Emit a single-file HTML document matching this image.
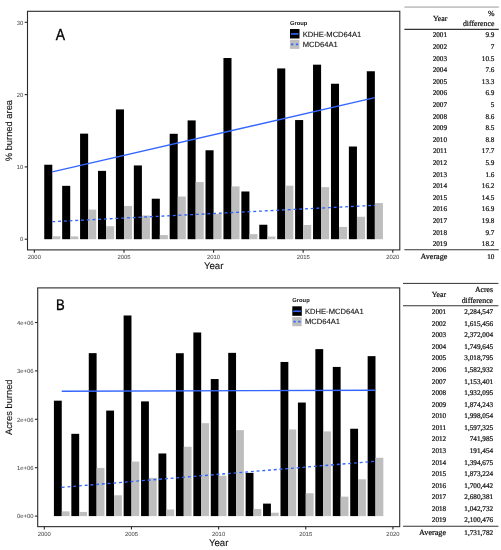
<!DOCTYPE html>
<html lang="en">
<head>
<meta charset="utf-8">
<title>Burned area comparison</title>
<style>
html,body{margin:0;padding:0;background:#fff;}
body{width:501px;height:550px;overflow:hidden;}
svg{display:block;}
</style>
</head>
<body>
<svg width="501" height="550" viewBox="0 0 501 550" text-rendering="geometricPrecision">
<rect x="0" y="0" width="501" height="550" fill="#fff"/>
<g>
<rect x="44.24" y="164.73" width="8.06" height="74.47" fill="#000"/>
<rect x="52.3" y="236.31" width="8.06" height="2.89" fill="#bebebe"/>
<rect x="62.16" y="185.84" width="8.06" height="53.36" fill="#000"/>
<rect x="70.22" y="236.45" width="8.06" height="2.75" fill="#bebebe"/>
<rect x="80.08" y="133.64" width="8.06" height="105.56" fill="#000"/>
<rect x="88.14" y="209.56" width="8.06" height="29.64" fill="#bebebe"/>
<rect x="98" y="170.88" width="8.06" height="68.32" fill="#000"/>
<rect x="106.06" y="226.19" width="8.06" height="13.01" fill="#bebebe"/>
<rect x="115.92" y="109.42" width="8.06" height="129.78" fill="#000"/>
<rect x="123.98" y="205.94" width="8.06" height="33.26" fill="#bebebe"/>
<rect x="133.84" y="165.45" width="8.06" height="73.75" fill="#000"/>
<rect x="141.9" y="215.49" width="8.06" height="23.71" fill="#bebebe"/>
<rect x="151.76" y="198.71" width="8.06" height="40.49" fill="#000"/>
<rect x="159.82" y="235.08" width="8.06" height="4.12" fill="#bebebe"/>
<rect x="169.68" y="133.79" width="8.06" height="105.41" fill="#000"/>
<rect x="177.74" y="196.54" width="8.06" height="42.66" fill="#bebebe"/>
<rect x="187.6" y="120.41" width="8.06" height="118.79" fill="#000"/>
<rect x="195.66" y="182.08" width="8.06" height="57.12" fill="#bebebe"/>
<rect x="205.52" y="150.27" width="8.06" height="88.93" fill="#000"/>
<rect x="213.58" y="213.89" width="8.06" height="25.3" fill="#bebebe"/>
<rect x="223.44" y="58.02" width="8.06" height="181.18" fill="#000"/>
<rect x="231.5" y="186.42" width="8.06" height="52.78" fill="#bebebe"/>
<rect x="241.36" y="191.48" width="8.06" height="47.72" fill="#000"/>
<rect x="249.42" y="234.14" width="8.06" height="5.06" fill="#bebebe"/>
<rect x="259.28" y="224.74" width="8.06" height="14.46" fill="#000"/>
<rect x="267.34" y="236.52" width="8.06" height="2.68" fill="#bebebe"/>
<rect x="277.2" y="68.43" width="8.06" height="170.77" fill="#000"/>
<rect x="285.26" y="185.7" width="8.06" height="53.5" fill="#bebebe"/>
<rect x="295.12" y="120.05" width="8.06" height="119.15" fill="#000"/>
<rect x="303.18" y="224.96" width="8.06" height="14.24" fill="#bebebe"/>
<rect x="313.04" y="64.67" width="8.06" height="174.53" fill="#000"/>
<rect x="321.1" y="187.14" width="8.06" height="52.06" fill="#bebebe"/>
<rect x="330.96" y="83.75" width="8.06" height="155.45" fill="#000"/>
<rect x="339.02" y="226.91" width="8.06" height="12.29" fill="#bebebe"/>
<rect x="348.88" y="146.51" width="8.06" height="92.69" fill="#000"/>
<rect x="356.94" y="216.79" width="8.06" height="22.41" fill="#bebebe"/>
<rect x="366.8" y="71.25" width="8.06" height="167.95" fill="#000"/>
<rect x="374.86" y="203.05" width="8.06" height="36.15" fill="#bebebe"/>
</g>
<line x1="52.3" y1="171.9" x2="374.9" y2="97.6" stroke="#3366ff" stroke-width="1.35"/>
<line x1="52.3" y1="221.7" x2="375.2" y2="205.3" stroke="#3366ff" stroke-width="1.35" stroke-dasharray="2.9 2.85"/>
<rect x="27.5" y="11.3" width="372.3" height="238.6" fill="none" stroke="#2a2a2a" stroke-width="1.1"/>
<line x1="24.7" y1="239.2" x2="27.5" y2="239.2" stroke="#2a2a2a" stroke-width="1.1"/>
<text x="23.3" y="241.4" text-anchor="end" font-family='"Liberation Sans", Arial, Helvetica, sans-serif' font-size="5.9" fill="#4d4d4d" stroke="#4d4d4d" stroke-width="0.05">0</text>
<line x1="24.7" y1="166.9" x2="27.5" y2="166.9" stroke="#2a2a2a" stroke-width="1.1"/>
<text x="23.3" y="169.1" text-anchor="end" font-family='"Liberation Sans", Arial, Helvetica, sans-serif' font-size="5.9" fill="#4d4d4d" stroke="#4d4d4d" stroke-width="0.05">10</text>
<line x1="24.7" y1="94.6" x2="27.5" y2="94.6" stroke="#2a2a2a" stroke-width="1.1"/>
<text x="23.3" y="96.8" text-anchor="end" font-family='"Liberation Sans", Arial, Helvetica, sans-serif' font-size="5.9" fill="#4d4d4d" stroke="#4d4d4d" stroke-width="0.05">20</text>
<line x1="24.7" y1="22.3" x2="27.5" y2="22.3" stroke="#2a2a2a" stroke-width="1.1"/>
<text x="23.3" y="24.5" text-anchor="end" font-family='"Liberation Sans", Arial, Helvetica, sans-serif' font-size="5.9" fill="#4d4d4d" stroke="#4d4d4d" stroke-width="0.05">30</text>
<line x1="34.38" y1="249.9" x2="34.38" y2="252.7" stroke="#2a2a2a" stroke-width="1.1"/>
<text x="34.38" y="259.4" text-anchor="middle" font-family='"Liberation Sans", Arial, Helvetica, sans-serif' font-size="5.9" fill="#4d4d4d" stroke="#4d4d4d" stroke-width="0.05">2000</text>
<line x1="123.98" y1="249.9" x2="123.98" y2="252.7" stroke="#2a2a2a" stroke-width="1.1"/>
<text x="123.98" y="259.4" text-anchor="middle" font-family='"Liberation Sans", Arial, Helvetica, sans-serif' font-size="5.9" fill="#4d4d4d" stroke="#4d4d4d" stroke-width="0.05">2005</text>
<line x1="213.58" y1="249.9" x2="213.58" y2="252.7" stroke="#2a2a2a" stroke-width="1.1"/>
<text x="213.58" y="259.4" text-anchor="middle" font-family='"Liberation Sans", Arial, Helvetica, sans-serif' font-size="5.9" fill="#4d4d4d" stroke="#4d4d4d" stroke-width="0.05">2010</text>
<line x1="303.18" y1="249.9" x2="303.18" y2="252.7" stroke="#2a2a2a" stroke-width="1.1"/>
<text x="303.18" y="259.4" text-anchor="middle" font-family='"Liberation Sans", Arial, Helvetica, sans-serif' font-size="5.9" fill="#4d4d4d" stroke="#4d4d4d" stroke-width="0.05">2015</text>
<line x1="392.78" y1="249.9" x2="392.78" y2="252.7" stroke="#2a2a2a" stroke-width="1.1"/>
<text x="392.78" y="259.4" text-anchor="middle" font-family='"Liberation Sans", Arial, Helvetica, sans-serif' font-size="5.9" fill="#4d4d4d" stroke="#4d4d4d" stroke-width="0.05">2020</text>
<text x="213.65" y="269" text-anchor="middle" font-family='"Liberation Sans", Arial, Helvetica, sans-serif' font-size="9.6" fill="#111" stroke="#111" stroke-width="0.1">Year</text>
<text transform="translate(12.2 130.6) rotate(-90)" text-anchor="middle" font-family='"Liberation Sans", Arial, Helvetica, sans-serif' font-size="9.35" fill="#111" stroke="#111" stroke-width="0.1">% burned area</text>
<text transform="translate(55.8 40) scale(0.87 1)" font-family='"Liberation Sans", Arial, Helvetica, sans-serif' font-size="16" fill="#000" stroke="#000" stroke-width="0.35">A</text>
<text x="290" y="25.1" font-family='"Liberation Sans", Arial, Helvetica, sans-serif' font-size="5.8" font-weight="bold" fill="#111">Group</text>
<rect x="290" y="29" width="9.5" height="9.5" fill="#000"/>
<line x1="290.9" y1="33.95" x2="298.5" y2="33.95" stroke="#3366ff" stroke-width="1.6"/>
<rect x="290" y="39.8" width="9.4" height="9.1" fill="#bebebe"/>
<line x1="291.1" y1="44.35" x2="298.5" y2="44.35" stroke="#3366ff" stroke-width="1.6" stroke-dasharray="2.3 2.5"/>
<text x="302.7" y="36.6" font-family='"Liberation Sans", Arial, Helvetica, sans-serif' font-size="7.6" fill="#111" stroke="#111" stroke-width="0.12">KDHE-MCD64A1</text>
<text x="302.7" y="47" font-family='"Liberation Sans", Arial, Helvetica, sans-serif' font-size="7.6" fill="#111" stroke="#111" stroke-width="0.12">MCD64A1</text>
<g>
<rect x="53.91" y="400.67" width="7.84" height="115.43" fill="#000"/>
<rect x="61.75" y="511.36" width="7.84" height="4.74" fill="#bebebe"/>
<rect x="71.34" y="433.82" width="7.84" height="82.28" fill="#000"/>
<rect x="79.18" y="511.94" width="7.84" height="4.16" fill="#bebebe"/>
<rect x="88.77" y="353.14" width="7.84" height="162.96" fill="#000"/>
<rect x="96.61" y="467.94" width="7.84" height="48.16" fill="#bebebe"/>
<rect x="106.2" y="410.59" width="7.84" height="105.51" fill="#000"/>
<rect x="114.04" y="495.29" width="7.84" height="20.81" fill="#bebebe"/>
<rect x="123.63" y="315.48" width="7.84" height="200.62" fill="#000"/>
<rect x="131.47" y="461.6" width="7.84" height="54.5" fill="#bebebe"/>
<rect x="141.06" y="401.39" width="7.84" height="114.71" fill="#000"/>
<rect x="148.9" y="477.86" width="7.84" height="38.24" fill="#bebebe"/>
<rect x="158.49" y="453.47" width="7.84" height="62.63" fill="#000"/>
<rect x="166.33" y="509.47" width="7.84" height="6.63" fill="#bebebe"/>
<rect x="175.92" y="353.23" width="7.84" height="162.87" fill="#000"/>
<rect x="183.76" y="446.74" width="7.84" height="69.36" fill="#bebebe"/>
<rect x="193.35" y="332.47" width="7.84" height="183.63" fill="#000"/>
<rect x="201.19" y="423.17" width="7.84" height="92.93" fill="#bebebe"/>
<rect x="210.78" y="379.03" width="7.84" height="137.07" fill="#000"/>
<rect x="218.62" y="475.73" width="7.84" height="40.37" fill="#bebebe"/>
<rect x="228.21" y="352.85" width="7.84" height="163.25" fill="#000"/>
<rect x="236.05" y="430.14" width="7.84" height="85.96" fill="#bebebe"/>
<rect x="245.64" y="472.88" width="7.84" height="43.22" fill="#000"/>
<rect x="253.48" y="508.99" width="7.84" height="7.11" fill="#bebebe"/>
<rect x="263.07" y="503.61" width="7.84" height="12.49" fill="#000"/>
<rect x="270.91" y="512.71" width="7.84" height="3.39" fill="#bebebe"/>
<rect x="280.5" y="361.95" width="7.84" height="154.15" fill="#000"/>
<rect x="288.34" y="429.46" width="7.84" height="86.64" fill="#bebebe"/>
<rect x="297.93" y="402.55" width="7.84" height="113.55" fill="#000"/>
<rect x="305.77" y="493.26" width="7.84" height="22.84" fill="#bebebe"/>
<rect x="315.36" y="349.12" width="7.84" height="166.98" fill="#000"/>
<rect x="323.2" y="431.4" width="7.84" height="84.7" fill="#bebebe"/>
<rect x="332.79" y="366.93" width="7.84" height="149.17" fill="#000"/>
<rect x="340.63" y="496.64" width="7.84" height="19.46" fill="#bebebe"/>
<rect x="350.22" y="428.74" width="7.84" height="87.36" fill="#000"/>
<rect x="358.06" y="479.27" width="7.84" height="36.83" fill="#bebebe"/>
<rect x="367.65" y="356.14" width="7.84" height="159.96" fill="#000"/>
<rect x="375.49" y="457.78" width="7.84" height="58.32" fill="#bebebe"/>
</g>
<line x1="61.75" y1="391.2" x2="375.2" y2="390.2" stroke="#3366ff" stroke-width="1.35"/>
<line x1="61.75" y1="487.35" x2="375.5" y2="461.3" stroke="#3366ff" stroke-width="1.35" stroke-dasharray="2.9 2.85"/>
<rect x="37.7" y="287.9" width="362" height="238.75" fill="none" stroke="#2a2a2a" stroke-width="1.1"/>
<line x1="34.9" y1="516.1" x2="37.7" y2="516.1" stroke="#2a2a2a" stroke-width="1.1"/>
<text x="33.5" y="518.3" text-anchor="end" font-family='"Liberation Sans", Arial, Helvetica, sans-serif' font-size="5.9" fill="#4d4d4d" stroke="#4d4d4d" stroke-width="0.05">0e+00</text>
<line x1="34.9" y1="467.7" x2="37.7" y2="467.7" stroke="#2a2a2a" stroke-width="1.1"/>
<text x="33.5" y="469.9" text-anchor="end" font-family='"Liberation Sans", Arial, Helvetica, sans-serif' font-size="5.9" fill="#4d4d4d" stroke="#4d4d4d" stroke-width="0.05">1e+06</text>
<line x1="34.9" y1="419.3" x2="37.7" y2="419.3" stroke="#2a2a2a" stroke-width="1.1"/>
<text x="33.5" y="421.5" text-anchor="end" font-family='"Liberation Sans", Arial, Helvetica, sans-serif' font-size="5.9" fill="#4d4d4d" stroke="#4d4d4d" stroke-width="0.05">2e+06</text>
<line x1="34.9" y1="370.9" x2="37.7" y2="370.9" stroke="#2a2a2a" stroke-width="1.1"/>
<text x="33.5" y="373.1" text-anchor="end" font-family='"Liberation Sans", Arial, Helvetica, sans-serif' font-size="5.9" fill="#4d4d4d" stroke="#4d4d4d" stroke-width="0.05">3e+06</text>
<line x1="34.9" y1="322.5" x2="37.7" y2="322.5" stroke="#2a2a2a" stroke-width="1.1"/>
<text x="33.5" y="324.7" text-anchor="end" font-family='"Liberation Sans", Arial, Helvetica, sans-serif' font-size="5.9" fill="#4d4d4d" stroke="#4d4d4d" stroke-width="0.05">4e+06</text>
<line x1="44.32" y1="526.65" x2="44.32" y2="529.45" stroke="#2a2a2a" stroke-width="1.1"/>
<text x="44.32" y="536.3" text-anchor="middle" font-family='"Liberation Sans", Arial, Helvetica, sans-serif' font-size="5.9" fill="#4d4d4d" stroke="#4d4d4d" stroke-width="0.05">2000</text>
<line x1="131.47" y1="526.65" x2="131.47" y2="529.45" stroke="#2a2a2a" stroke-width="1.1"/>
<text x="131.47" y="536.3" text-anchor="middle" font-family='"Liberation Sans", Arial, Helvetica, sans-serif' font-size="5.9" fill="#4d4d4d" stroke="#4d4d4d" stroke-width="0.05">2005</text>
<line x1="218.62" y1="526.65" x2="218.62" y2="529.45" stroke="#2a2a2a" stroke-width="1.1"/>
<text x="218.62" y="536.3" text-anchor="middle" font-family='"Liberation Sans", Arial, Helvetica, sans-serif' font-size="5.9" fill="#4d4d4d" stroke="#4d4d4d" stroke-width="0.05">2010</text>
<line x1="305.77" y1="526.65" x2="305.77" y2="529.45" stroke="#2a2a2a" stroke-width="1.1"/>
<text x="305.77" y="536.3" text-anchor="middle" font-family='"Liberation Sans", Arial, Helvetica, sans-serif' font-size="5.9" fill="#4d4d4d" stroke="#4d4d4d" stroke-width="0.05">2015</text>
<line x1="392.92" y1="526.65" x2="392.92" y2="529.45" stroke="#2a2a2a" stroke-width="1.1"/>
<text x="392.92" y="536.3" text-anchor="middle" font-family='"Liberation Sans", Arial, Helvetica, sans-serif' font-size="5.9" fill="#4d4d4d" stroke="#4d4d4d" stroke-width="0.05">2020</text>
<text x="218.7" y="545.5" text-anchor="middle" font-family='"Liberation Sans", Arial, Helvetica, sans-serif' font-size="9.6" fill="#111" stroke="#111" stroke-width="0.1">Year</text>
<text transform="translate(12.3 407.27) rotate(-90)" text-anchor="middle" font-family='"Liberation Sans", Arial, Helvetica, sans-serif' font-size="9.35" fill="#111" stroke="#111" stroke-width="0.1">Acres burned</text>
<text transform="translate(55.9 310) scale(0.85 1)" font-family='"Liberation Sans", Arial, Helvetica, sans-serif' font-size="15.4" fill="#000" stroke="#000" stroke-width="0.35">B</text>
<text x="292.3" y="302.4" font-family='"Liberation Sans", Arial, Helvetica, sans-serif' font-size="5.8" font-weight="bold" fill="#111">Group</text>
<rect x="292.3" y="306.3" width="9.5" height="9.5" fill="#000"/>
<line x1="293.2" y1="311.25" x2="300.8" y2="311.25" stroke="#3366ff" stroke-width="1.6"/>
<rect x="292.3" y="317.1" width="9.4" height="9.1" fill="#bebebe"/>
<line x1="293.4" y1="321.65" x2="300.8" y2="321.65" stroke="#3366ff" stroke-width="1.6" stroke-dasharray="2.3 2.5"/>
<text x="305" y="313.9" font-family='"Liberation Sans", Arial, Helvetica, sans-serif' font-size="7.6" fill="#111" stroke="#111" stroke-width="0.12">KDHE-MCD64A1</text>
<text x="305" y="324.3" font-family='"Liberation Sans", Arial, Helvetica, sans-serif' font-size="7.6" fill="#111" stroke="#111" stroke-width="0.12">MCD64A1</text>
<line x1="404.4" y1="7.05" x2="498.8" y2="7.05" stroke="#999" stroke-width="1"/>
<line x1="404.4" y1="29.4" x2="498.8" y2="29.4" stroke="#333" stroke-width="1.1"/>
<line x1="404.4" y1="249.8" x2="498.8" y2="249.8" stroke="#333" stroke-width="1.1"/>
<text x="447.4" y="21" text-anchor="end" font-family='"Liberation Serif", "Times New Roman", serif' font-size="7.8" fill="#111" stroke="#111" stroke-width="0.22">Year</text>
<text x="494.4" y="15.6" text-anchor="end" font-family='"Liberation Serif", "Times New Roman", serif' font-size="7.8" fill="#111" stroke="#111" stroke-width="0.22">%</text>
<text x="494.4" y="25.6" text-anchor="end" font-family='"Liberation Serif", "Times New Roman", serif' font-size="7.8" fill="#111" stroke="#111" stroke-width="0.22">difference</text>
<text x="447" y="37.4" text-anchor="end" font-family='"Liberation Serif", "Times New Roman", serif' font-size="7.2" fill="#111" stroke="#111" stroke-width="0.22">2001</text>
<text x="494.4" y="37.4" text-anchor="end" font-family='"Liberation Serif", "Times New Roman", serif' font-size="7.2" fill="#111" stroke="#111" stroke-width="0.22">9.9</text>
<text x="447" y="49" text-anchor="end" font-family='"Liberation Serif", "Times New Roman", serif' font-size="7.2" fill="#111" stroke="#111" stroke-width="0.22">2002</text>
<text x="494.4" y="49" text-anchor="end" font-family='"Liberation Serif", "Times New Roman", serif' font-size="7.2" fill="#111" stroke="#111" stroke-width="0.22">7</text>
<text x="447" y="60.6" text-anchor="end" font-family='"Liberation Serif", "Times New Roman", serif' font-size="7.2" fill="#111" stroke="#111" stroke-width="0.22">2003</text>
<text x="494.4" y="60.6" text-anchor="end" font-family='"Liberation Serif", "Times New Roman", serif' font-size="7.2" fill="#111" stroke="#111" stroke-width="0.22">10.5</text>
<text x="447" y="72.2" text-anchor="end" font-family='"Liberation Serif", "Times New Roman", serif' font-size="7.2" fill="#111" stroke="#111" stroke-width="0.22">2004</text>
<text x="494.4" y="72.2" text-anchor="end" font-family='"Liberation Serif", "Times New Roman", serif' font-size="7.2" fill="#111" stroke="#111" stroke-width="0.22">7.6</text>
<text x="447" y="83.8" text-anchor="end" font-family='"Liberation Serif", "Times New Roman", serif' font-size="7.2" fill="#111" stroke="#111" stroke-width="0.22">2005</text>
<text x="494.4" y="83.8" text-anchor="end" font-family='"Liberation Serif", "Times New Roman", serif' font-size="7.2" fill="#111" stroke="#111" stroke-width="0.22">13.3</text>
<text x="447" y="95.4" text-anchor="end" font-family='"Liberation Serif", "Times New Roman", serif' font-size="7.2" fill="#111" stroke="#111" stroke-width="0.22">2006</text>
<text x="494.4" y="95.4" text-anchor="end" font-family='"Liberation Serif", "Times New Roman", serif' font-size="7.2" fill="#111" stroke="#111" stroke-width="0.22">6.9</text>
<text x="447" y="107" text-anchor="end" font-family='"Liberation Serif", "Times New Roman", serif' font-size="7.2" fill="#111" stroke="#111" stroke-width="0.22">2007</text>
<text x="494.4" y="107" text-anchor="end" font-family='"Liberation Serif", "Times New Roman", serif' font-size="7.2" fill="#111" stroke="#111" stroke-width="0.22">5</text>
<text x="447" y="118.6" text-anchor="end" font-family='"Liberation Serif", "Times New Roman", serif' font-size="7.2" fill="#111" stroke="#111" stroke-width="0.22">2008</text>
<text x="494.4" y="118.6" text-anchor="end" font-family='"Liberation Serif", "Times New Roman", serif' font-size="7.2" fill="#111" stroke="#111" stroke-width="0.22">8.6</text>
<text x="447" y="130.2" text-anchor="end" font-family='"Liberation Serif", "Times New Roman", serif' font-size="7.2" fill="#111" stroke="#111" stroke-width="0.22">2009</text>
<text x="494.4" y="130.2" text-anchor="end" font-family='"Liberation Serif", "Times New Roman", serif' font-size="7.2" fill="#111" stroke="#111" stroke-width="0.22">8.5</text>
<text x="447" y="141.8" text-anchor="end" font-family='"Liberation Serif", "Times New Roman", serif' font-size="7.2" fill="#111" stroke="#111" stroke-width="0.22">2010</text>
<text x="494.4" y="141.8" text-anchor="end" font-family='"Liberation Serif", "Times New Roman", serif' font-size="7.2" fill="#111" stroke="#111" stroke-width="0.22">8.8</text>
<text x="447" y="153.4" text-anchor="end" font-family='"Liberation Serif", "Times New Roman", serif' font-size="7.2" fill="#111" stroke="#111" stroke-width="0.22">2011</text>
<text x="494.4" y="153.4" text-anchor="end" font-family='"Liberation Serif", "Times New Roman", serif' font-size="7.2" fill="#111" stroke="#111" stroke-width="0.22">17.7</text>
<text x="447" y="165" text-anchor="end" font-family='"Liberation Serif", "Times New Roman", serif' font-size="7.2" fill="#111" stroke="#111" stroke-width="0.22">2012</text>
<text x="494.4" y="165" text-anchor="end" font-family='"Liberation Serif", "Times New Roman", serif' font-size="7.2" fill="#111" stroke="#111" stroke-width="0.22">5.9</text>
<text x="447" y="176.6" text-anchor="end" font-family='"Liberation Serif", "Times New Roman", serif' font-size="7.2" fill="#111" stroke="#111" stroke-width="0.22">2013</text>
<text x="494.4" y="176.6" text-anchor="end" font-family='"Liberation Serif", "Times New Roman", serif' font-size="7.2" fill="#111" stroke="#111" stroke-width="0.22">1.6</text>
<text x="447" y="188.2" text-anchor="end" font-family='"Liberation Serif", "Times New Roman", serif' font-size="7.2" fill="#111" stroke="#111" stroke-width="0.22">2014</text>
<text x="494.4" y="188.2" text-anchor="end" font-family='"Liberation Serif", "Times New Roman", serif' font-size="7.2" fill="#111" stroke="#111" stroke-width="0.22">16.2</text>
<text x="447" y="199.8" text-anchor="end" font-family='"Liberation Serif", "Times New Roman", serif' font-size="7.2" fill="#111" stroke="#111" stroke-width="0.22">2015</text>
<text x="494.4" y="199.8" text-anchor="end" font-family='"Liberation Serif", "Times New Roman", serif' font-size="7.2" fill="#111" stroke="#111" stroke-width="0.22">14.5</text>
<text x="447" y="211.4" text-anchor="end" font-family='"Liberation Serif", "Times New Roman", serif' font-size="7.2" fill="#111" stroke="#111" stroke-width="0.22">2016</text>
<text x="494.4" y="211.4" text-anchor="end" font-family='"Liberation Serif", "Times New Roman", serif' font-size="7.2" fill="#111" stroke="#111" stroke-width="0.22">16.9</text>
<text x="447" y="223" text-anchor="end" font-family='"Liberation Serif", "Times New Roman", serif' font-size="7.2" fill="#111" stroke="#111" stroke-width="0.22">2017</text>
<text x="494.4" y="223" text-anchor="end" font-family='"Liberation Serif", "Times New Roman", serif' font-size="7.2" fill="#111" stroke="#111" stroke-width="0.22">19.8</text>
<text x="447" y="234.6" text-anchor="end" font-family='"Liberation Serif", "Times New Roman", serif' font-size="7.2" fill="#111" stroke="#111" stroke-width="0.22">2018</text>
<text x="494.4" y="234.6" text-anchor="end" font-family='"Liberation Serif", "Times New Roman", serif' font-size="7.2" fill="#111" stroke="#111" stroke-width="0.22">9.7</text>
<text x="447" y="246.2" text-anchor="end" font-family='"Liberation Serif", "Times New Roman", serif' font-size="7.2" fill="#111" stroke="#111" stroke-width="0.22">2019</text>
<text x="494.4" y="246.2" text-anchor="end" font-family='"Liberation Serif", "Times New Roman", serif' font-size="7.2" fill="#111" stroke="#111" stroke-width="0.22">18.2</text>
<text x="447.4" y="258.6" text-anchor="end" font-family='"Liberation Serif", "Times New Roman", serif' font-size="8.15" fill="#111" stroke="#111" stroke-width="0.22">Average</text>
<text x="494.4" y="258.6" text-anchor="end" font-family='"Liberation Serif", "Times New Roman", serif' font-size="7.2" fill="#111" stroke="#111" stroke-width="0.22">10</text>
<line x1="403" y1="283.4" x2="498.4" y2="283.4" stroke="#333" stroke-width="1"/>
<line x1="403" y1="305.8" x2="498.4" y2="305.8" stroke="#333" stroke-width="1.1"/>
<line x1="403" y1="526.3" x2="498.4" y2="526.3" stroke="#333" stroke-width="1.1"/>
<text x="446" y="297.2" text-anchor="end" font-family='"Liberation Serif", "Times New Roman", serif' font-size="7.8" fill="#111" stroke="#111" stroke-width="0.22">Year</text>
<text x="493.1" y="292.1" text-anchor="end" font-family='"Liberation Serif", "Times New Roman", serif' font-size="7.8" fill="#111" stroke="#111" stroke-width="0.22">Acres</text>
<text x="493.1" y="302.6" text-anchor="end" font-family='"Liberation Serif", "Times New Roman", serif' font-size="7.8" fill="#111" stroke="#111" stroke-width="0.22">difference</text>
<text x="446.2" y="314.1" text-anchor="end" font-family='"Liberation Serif", "Times New Roman", serif' font-size="7.2" fill="#111" stroke="#111" stroke-width="0.22">2001</text>
<text x="493.1" y="314.1" text-anchor="end" font-family='"Liberation Serif", "Times New Roman", serif' font-size="7.2" fill="#111" stroke="#111" stroke-width="0.22">2,284,547</text>
<text x="446.2" y="325.67" text-anchor="end" font-family='"Liberation Serif", "Times New Roman", serif' font-size="7.2" fill="#111" stroke="#111" stroke-width="0.22">2002</text>
<text x="493.1" y="325.67" text-anchor="end" font-family='"Liberation Serif", "Times New Roman", serif' font-size="7.2" fill="#111" stroke="#111" stroke-width="0.22">1,615,456</text>
<text x="446.2" y="337.24" text-anchor="end" font-family='"Liberation Serif", "Times New Roman", serif' font-size="7.2" fill="#111" stroke="#111" stroke-width="0.22">2003</text>
<text x="493.1" y="337.24" text-anchor="end" font-family='"Liberation Serif", "Times New Roman", serif' font-size="7.2" fill="#111" stroke="#111" stroke-width="0.22">2,372,004</text>
<text x="446.2" y="348.81" text-anchor="end" font-family='"Liberation Serif", "Times New Roman", serif' font-size="7.2" fill="#111" stroke="#111" stroke-width="0.22">2004</text>
<text x="493.1" y="348.81" text-anchor="end" font-family='"Liberation Serif", "Times New Roman", serif' font-size="7.2" fill="#111" stroke="#111" stroke-width="0.22">1,749,645</text>
<text x="446.2" y="360.38" text-anchor="end" font-family='"Liberation Serif", "Times New Roman", serif' font-size="7.2" fill="#111" stroke="#111" stroke-width="0.22">2005</text>
<text x="493.1" y="360.38" text-anchor="end" font-family='"Liberation Serif", "Times New Roman", serif' font-size="7.2" fill="#111" stroke="#111" stroke-width="0.22">3,018,795</text>
<text x="446.2" y="371.95" text-anchor="end" font-family='"Liberation Serif", "Times New Roman", serif' font-size="7.2" fill="#111" stroke="#111" stroke-width="0.22">2006</text>
<text x="493.1" y="371.95" text-anchor="end" font-family='"Liberation Serif", "Times New Roman", serif' font-size="7.2" fill="#111" stroke="#111" stroke-width="0.22">1,582,932</text>
<text x="446.2" y="383.52" text-anchor="end" font-family='"Liberation Serif", "Times New Roman", serif' font-size="7.2" fill="#111" stroke="#111" stroke-width="0.22">2007</text>
<text x="493.1" y="383.52" text-anchor="end" font-family='"Liberation Serif", "Times New Roman", serif' font-size="7.2" fill="#111" stroke="#111" stroke-width="0.22">1,153,401</text>
<text x="446.2" y="395.09" text-anchor="end" font-family='"Liberation Serif", "Times New Roman", serif' font-size="7.2" fill="#111" stroke="#111" stroke-width="0.22">2008</text>
<text x="493.1" y="395.09" text-anchor="end" font-family='"Liberation Serif", "Times New Roman", serif' font-size="7.2" fill="#111" stroke="#111" stroke-width="0.22">1,932,095</text>
<text x="446.2" y="406.66" text-anchor="end" font-family='"Liberation Serif", "Times New Roman", serif' font-size="7.2" fill="#111" stroke="#111" stroke-width="0.22">2009</text>
<text x="493.1" y="406.66" text-anchor="end" font-family='"Liberation Serif", "Times New Roman", serif' font-size="7.2" fill="#111" stroke="#111" stroke-width="0.22">1,874,243</text>
<text x="446.2" y="418.23" text-anchor="end" font-family='"Liberation Serif", "Times New Roman", serif' font-size="7.2" fill="#111" stroke="#111" stroke-width="0.22">2010</text>
<text x="493.1" y="418.23" text-anchor="end" font-family='"Liberation Serif", "Times New Roman", serif' font-size="7.2" fill="#111" stroke="#111" stroke-width="0.22">1,998,054</text>
<text x="446.2" y="429.8" text-anchor="end" font-family='"Liberation Serif", "Times New Roman", serif' font-size="7.2" fill="#111" stroke="#111" stroke-width="0.22">2011</text>
<text x="493.1" y="429.8" text-anchor="end" font-family='"Liberation Serif", "Times New Roman", serif' font-size="7.2" fill="#111" stroke="#111" stroke-width="0.22">1,597,325</text>
<text x="446.2" y="441.37" text-anchor="end" font-family='"Liberation Serif", "Times New Roman", serif' font-size="7.2" fill="#111" stroke="#111" stroke-width="0.22">2012</text>
<text x="493.1" y="441.37" text-anchor="end" font-family='"Liberation Serif", "Times New Roman", serif' font-size="7.2" fill="#111" stroke="#111" stroke-width="0.22">741,985</text>
<text x="446.2" y="452.94" text-anchor="end" font-family='"Liberation Serif", "Times New Roman", serif' font-size="7.2" fill="#111" stroke="#111" stroke-width="0.22">2013</text>
<text x="493.1" y="452.94" text-anchor="end" font-family='"Liberation Serif", "Times New Roman", serif' font-size="7.2" fill="#111" stroke="#111" stroke-width="0.22">191,454</text>
<text x="446.2" y="464.51" text-anchor="end" font-family='"Liberation Serif", "Times New Roman", serif' font-size="7.2" fill="#111" stroke="#111" stroke-width="0.22">2014</text>
<text x="493.1" y="464.51" text-anchor="end" font-family='"Liberation Serif", "Times New Roman", serif' font-size="7.2" fill="#111" stroke="#111" stroke-width="0.22">1,394,675</text>
<text x="446.2" y="476.08" text-anchor="end" font-family='"Liberation Serif", "Times New Roman", serif' font-size="7.2" fill="#111" stroke="#111" stroke-width="0.22">2015</text>
<text x="493.1" y="476.08" text-anchor="end" font-family='"Liberation Serif", "Times New Roman", serif' font-size="7.2" fill="#111" stroke="#111" stroke-width="0.22">1,873,224</text>
<text x="446.2" y="487.65" text-anchor="end" font-family='"Liberation Serif", "Times New Roman", serif' font-size="7.2" fill="#111" stroke="#111" stroke-width="0.22">2016</text>
<text x="493.1" y="487.65" text-anchor="end" font-family='"Liberation Serif", "Times New Roman", serif' font-size="7.2" fill="#111" stroke="#111" stroke-width="0.22">1,700,442</text>
<text x="446.2" y="499.22" text-anchor="end" font-family='"Liberation Serif", "Times New Roman", serif' font-size="7.2" fill="#111" stroke="#111" stroke-width="0.22">2017</text>
<text x="493.1" y="499.22" text-anchor="end" font-family='"Liberation Serif", "Times New Roman", serif' font-size="7.2" fill="#111" stroke="#111" stroke-width="0.22">2,680,381</text>
<text x="446.2" y="510.79" text-anchor="end" font-family='"Liberation Serif", "Times New Roman", serif' font-size="7.2" fill="#111" stroke="#111" stroke-width="0.22">2018</text>
<text x="493.1" y="510.79" text-anchor="end" font-family='"Liberation Serif", "Times New Roman", serif' font-size="7.2" fill="#111" stroke="#111" stroke-width="0.22">1,042,732</text>
<text x="446.2" y="522.36" text-anchor="end" font-family='"Liberation Serif", "Times New Roman", serif' font-size="7.2" fill="#111" stroke="#111" stroke-width="0.22">2019</text>
<text x="493.1" y="522.36" text-anchor="end" font-family='"Liberation Serif", "Times New Roman", serif' font-size="7.2" fill="#111" stroke="#111" stroke-width="0.22">2,100,476</text>
<text x="446" y="534.8" text-anchor="end" font-family='"Liberation Serif", "Times New Roman", serif' font-size="8.15" fill="#111" stroke="#111" stroke-width="0.22">Average</text>
<text x="493.1" y="534.8" text-anchor="end" font-family='"Liberation Serif", "Times New Roman", serif' font-size="7.2" fill="#111" stroke="#111" stroke-width="0.22">1,731,782</text>
</svg>
</body>
</html>
